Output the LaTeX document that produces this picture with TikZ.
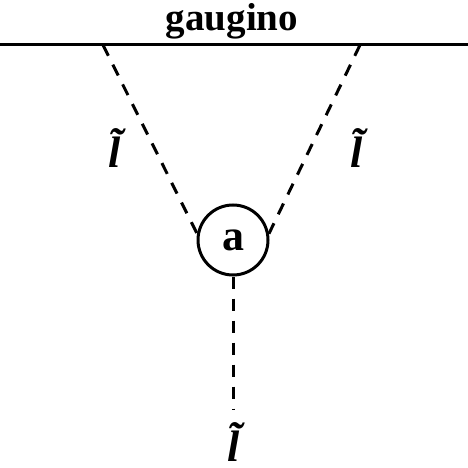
\documentclass[tikz,border=0pt]{standalone}
\usepackage{fontspec}
\setmainfont{Liberation Serif}
\tikzset{
  lbl/.style={font=\fontsize{39}{42}\selectfont\bfseries, inner sep=0pt},
  slep/.style={font=\fontsize{44}{46}\selectfont\bfseries\itshape, inner sep=0pt, anchor=south},
  vtx/.style={circle, draw, line width=3pt, minimum size=70pt, inner sep=0pt, font=\fontsize{44}{46}\selectfont\bfseries},
  scal/.style={line width=3pt, dash pattern=on 12pt off 10pt},
  ferm/.style={line width=3pt}
}
\begin{document}
\begin{tikzpicture}[x=1pt,y=-1pt]
\useasboundingbox (0,0) rectangle (468,468);
\coordinate (L) at (0,45);
\coordinate (R) at (468,45);
\coordinate (p1) at (103,45);
\coordinate (p2) at (360,45);
\coordinate (p3) at (233,410);
\node[vtx] (a) at (233,240) {\raisebox{-3pt}{a}};
\node[lbl] (g) at (232,21) {gaugino};
\draw[ferm] (L) -- (R);
\draw[scal] (p1) -- (a.170);
\draw[scal] (p2) -- (a.10);
\draw[scal] (a.south) -- (p3);
\node[slep] (l1) at (115,168) {\~{l}};
\node[slep] (l2) at (357,168) {\~{l}};
\node[slep] (l3) at (234,462) {\~{l}};
\end{tikzpicture}
\end{document}
